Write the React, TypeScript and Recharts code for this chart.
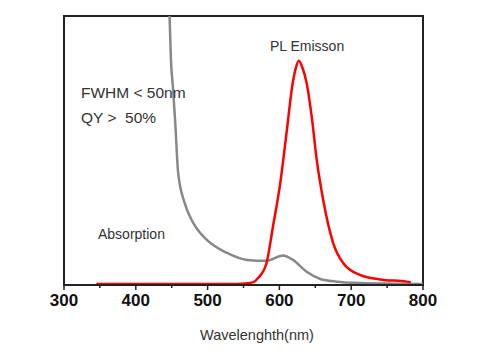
import React from "react";
import { LineChart, Line, XAxis, YAxis, ReferenceArea } from "recharts";

// wavelength (nm) / intensity (a.u.)
const absWavelength = [444, 447, 449, 452, 455, 459, 468, 480, 499, 527, 555, 582, 605, 619, 638, 657, 680, 712, 760, 800];
const absIntensity = [1.4, 1.2, 1.0, 0.87, 0.72, 0.5, 0.366, 0.277, 0.201, 0.143, 0.112, 0.108, 0.132, 0.112, 0.059, 0.027, 0.015, 0.009, 0.006, 0.005];

const plWavelength = [345, 450, 530, 552, 564, 570, 582, 591, 601, 610, 618, 623, 627, 632, 638, 645, 652, 661, 675, 689, 712, 740, 777, 783];
const plIntensity = [0.004, 0.004, 0.004, 0.007, 0.013, 0.03, 0.097, 0.26, 0.45, 0.68, 0.89, 0.97, 1.0, 0.97, 0.9, 0.751, 0.558, 0.379, 0.186, 0.097, 0.045, 0.025, 0.015, 0.012];

const xTicks = [300, 350, 400, 450, 500, 550, 600, 650, 700, 750, 800];

const absData = absWavelength.map((w, i) => ({ w, v: absIntensity[i] }));
const plData = plWavelength.map((w, i) => ({ w, v: plIntensity[i] }));

const FONT = "'Liberation Sans', Arial, sans-serif";

function Tick(props: any) {
  const { x, y, payload } = props;
  const major = payload.value % 100 === 0;
  return (
    <g>
      <line x1={x} x2={x} y1={y} y2={y + (major ? 5 : 3)} stroke="#222" strokeWidth={1.5} />
      {major && (
        <text x={x} y={y + 21} textAnchor="middle" fontSize={17} fontWeight="bold" fontFamily={FONT} fill="#111">
          {payload.value}
        </text>
      )}
    </g>
  );
}

const note: React.CSSProperties = {
  position: "absolute",
  fontFamily: FONT,
  fontSize: 14,
  lineHeight: "14px",
  color: "#333",
  whiteSpace: "pre",
};

const bigNote: React.CSSProperties = { ...note, fontSize: 15.5, lineHeight: "15.5px" };

export default function App() {
  return (
    <div style={{ position: "absolute", left: 0, top: 0, width: 482, height: 356, background: "#fff" }}>
      <LineChart width={482} height={356} margin={{ top: 16, right: 59, bottom: 41, left: 64 }}>
        <XAxis
          dataKey="w"
          type="number"
          domain={[300, 800]}
          ticks={xTicks}
          interval={0}
          tick={<Tick />}
          tickLine={false}
          tickSize={0}
          tickMargin={0}
          height={30}
          axisLine={{ stroke: "#222", strokeWidth: 2 }}
          allowDataOverflow
        />
        <YAxis domain={[0, 1.2]} type="number" hide allowDataOverflow />
        <ReferenceArea x1={300} x2={800} y1={0} y2={1.2} fill="none" stroke="#222" strokeWidth={2} ifOverflow="visible" />
        <Line data={absData} dataKey="v" type="monotone" stroke="#888" strokeWidth={2.5} dot={false} isAnimationActive={false} />
        <Line data={plData} dataKey="v" type="monotone" stroke="#ff0000" strokeWidth={2.5} dot={false} isAnimationActive={false} />
      </LineChart>
      <div style={{ ...bigNote, left: 81, top: 85 }}>FWHM &lt; 50nm</div>
      <div style={{ ...bigNote, left: 81, top: 110 }}>QY &gt;  50%</div>
      <div style={{ ...note, left: 270, top: 39 }}>PL Emisson</div>
      <div style={{ ...note, left: 98, top: 227 }}>Absorption</div>
      <div style={{ ...note, fontSize: 14.5, left: 200, top: 328 }}>Wavelenghth(nm)</div>
    </div>
  );
}
